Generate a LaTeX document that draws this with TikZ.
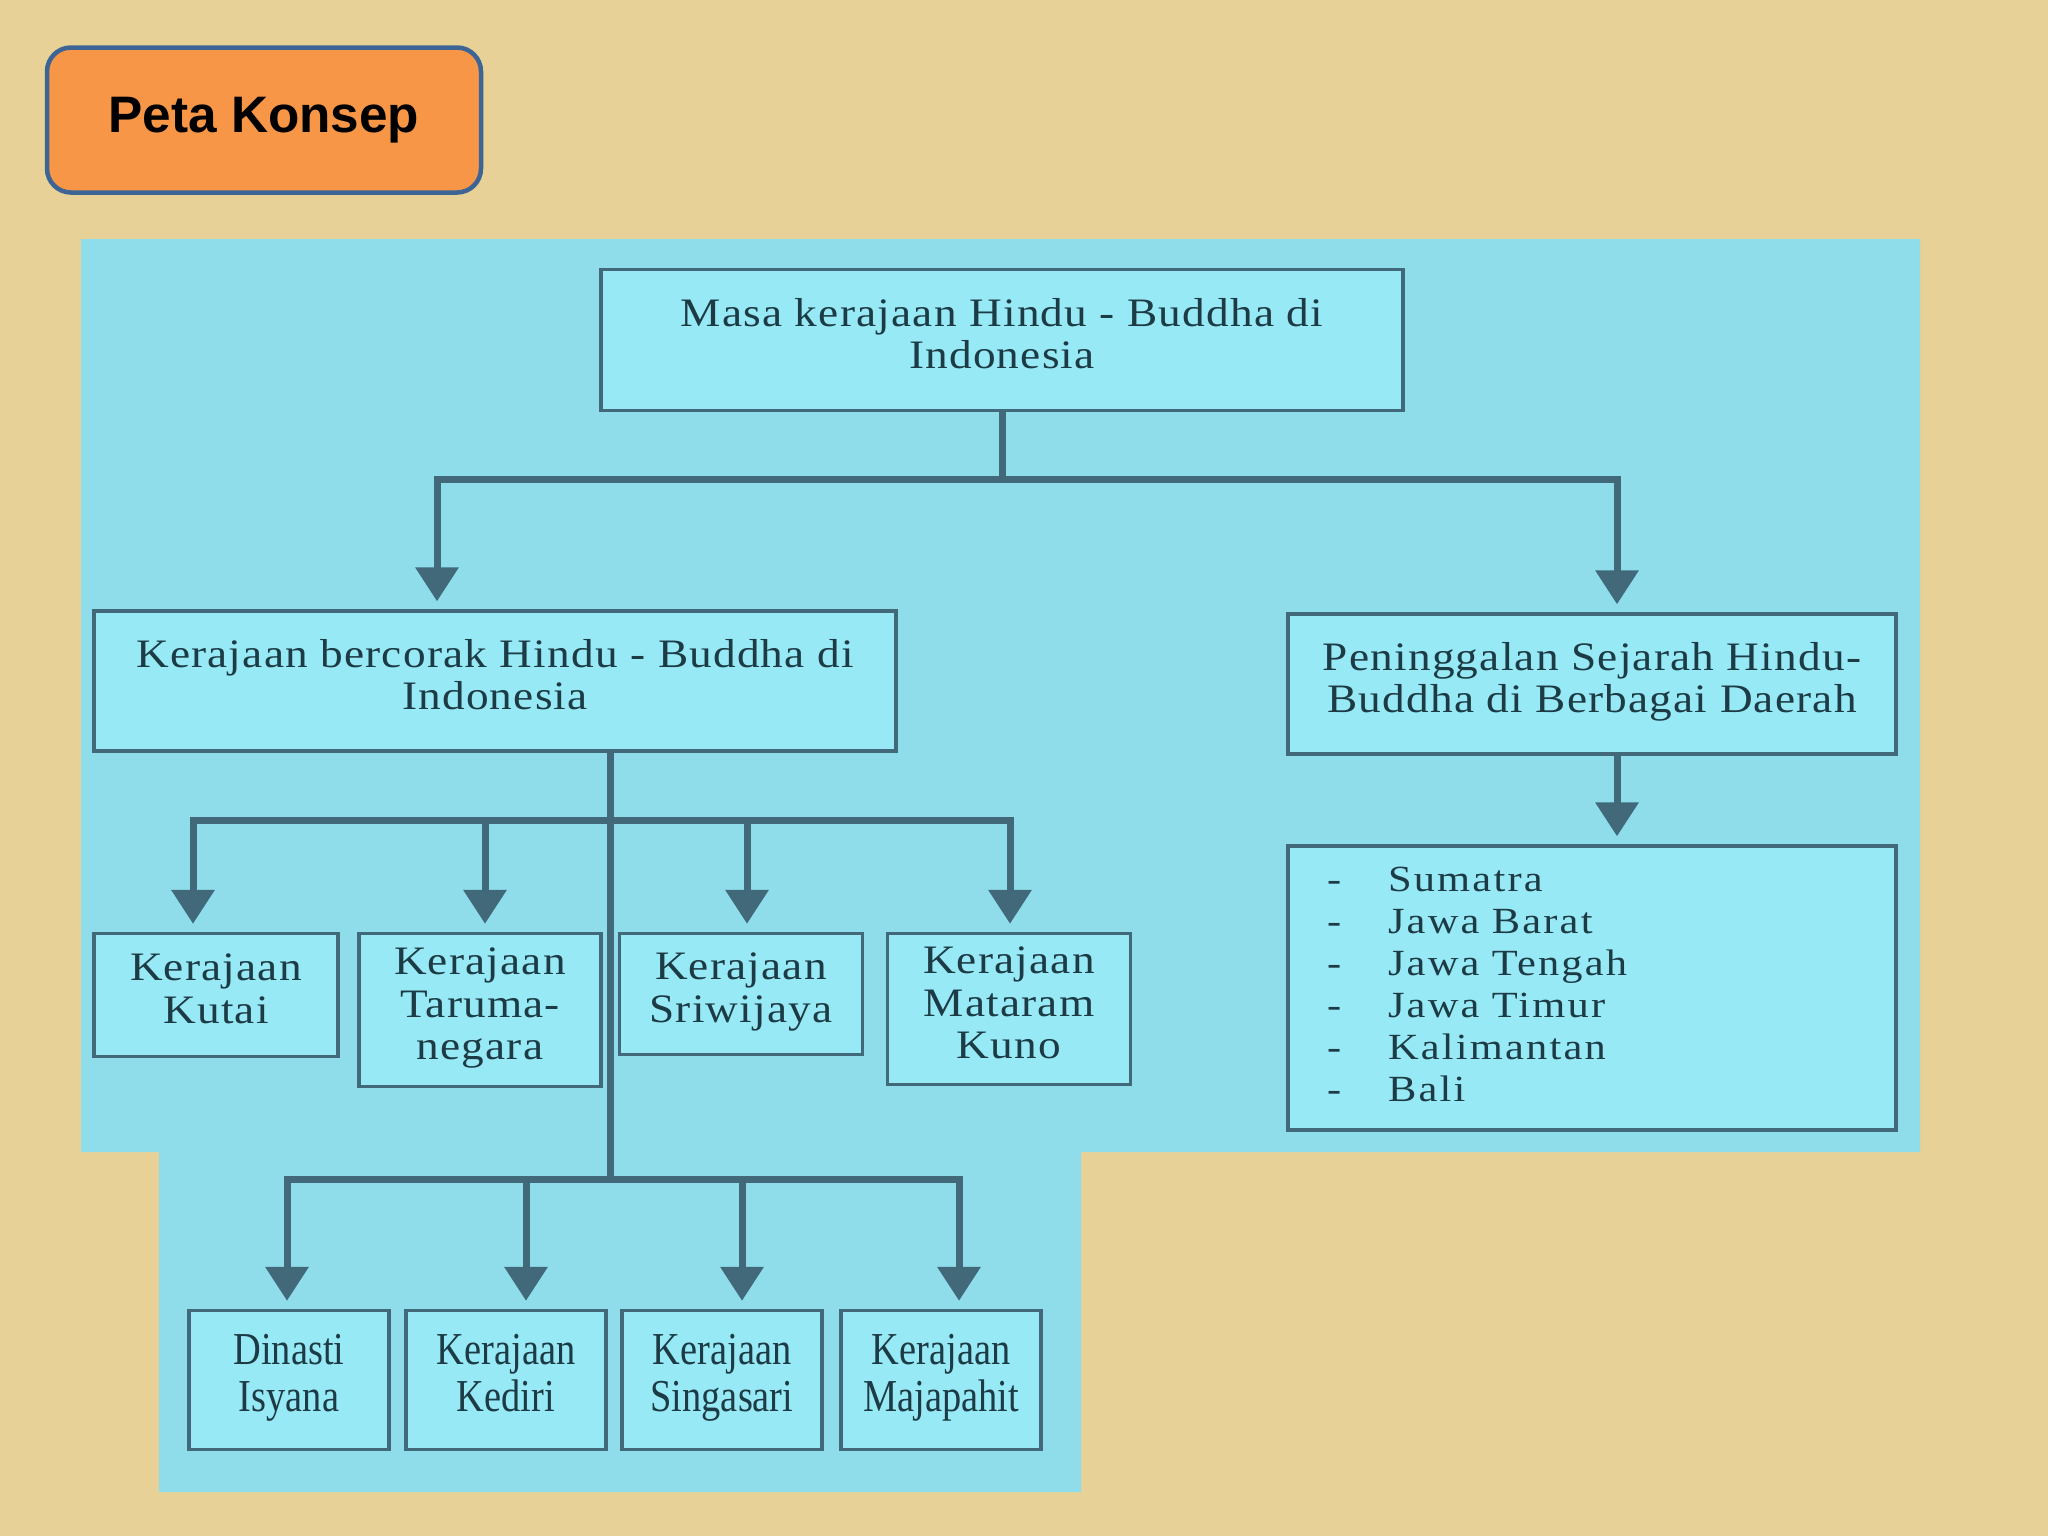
\documentclass[tikz,border=0pt]{standalone}
\usepackage{fontspec}
\usepackage{tikz}
\usetikzlibrary{arrows.meta, calc}
\usepackage{xcolor}

\setmainfont{Liberation Serif}
\newfontfamily\wideserif[FakeStretch=1.12, LetterSpace=3]{Liberation Serif}
\newfontfamily\listserif[FakeStretch=1.15, LetterSpace=6]{Liberation Serif}
\newfontfamily\narrowserif[FakeStretch=0.84]{Liberation Serif}
\newfontfamily\titlesans{Liberation Sans}

\definecolor{paper}{HTML}{E7D197}
\definecolor{panel}{HTML}{8FDDEA}
\definecolor{boxfill}{HTML}{98E9F6}
\definecolor{linec}{HTML}{41697A}
\definecolor{inkc}{HTML}{1C3B44}
\definecolor{titlefill}{HTML}{F79646}
\definecolor{titleline}{HTML}{3C6494}

\begin{document}
\begin{tikzpicture}[
  x=0.1mm, y=-0.1mm,
  title/.style={rectangle, draw=titleline, line width=0.45mm, fill=titlefill, rounded corners=2.4mm, minimum width=43.4mm, minimum height=14.5mm, font=\titlesans\bfseries\fontsize{14.6}{18}\selectfont},
  box/.style={rectangle, draw=linec, line width=0.35mm, fill=boxfill, text=inkc, align=center, inner sep=0pt, font=\wideserif\fontsize{11.5}{12}\selectfont, execute at begin node=\strut, execute at end node=\strut},
  smallbox/.style={box, font=\narrowserif\fontsize{13}{13.5}\selectfont},
  arrow/.style={-{Triangle[width=4.2mm,length=3.4mm]}, draw=linec, line width=0.7mm, shorten >=0.8mm},
  link/.style={draw=linec, line width=0.7mm}
]
\useasboundingbox (0,0) rectangle (2048,1536);
\fill[paper] (0,0) rectangle (2048,1536);

% Title
\node[title] (judul) at (264,120) {Peta Konsep};

% Blue panel
\fill[panel] (81,239) -- (1920,239) -- (1920,1152) -- (1081,1152) -- (1081,1492)
  -- (159,1492) -- (159,1152) -- (81,1152) -- cycle;

% Top level
\node[box, minimum width=80.2mm, minimum height=14.1mm] (masa) at (1002,340) {Masa kerajaan Hindu - Buddha di\\Indonesia};

% Second level
\node[box, minimum width=80.2mm, minimum height=14mm] (kerajaan) at (495,681) {Kerajaan bercorak Hindu - Buddha di\\Indonesia};
\node[box, minimum width=60.8mm, minimum height=14mm] (peninggalan) at (1592,684) {Peninggalan Sejarah Hindu-\\Buddha di Berbagai Daerah};
\node[box, minimum width=60.8mm, minimum height=28.4mm, text width=53mm, align=left, font=\listserif\fontsize{10.5}{12}\selectfont] (daerah) at (1592,988) {%
  \makebox[6.1mm][l]{-}Sumatra\\
  \makebox[6.1mm][l]{-}Jawa Barat\\
  \makebox[6.1mm][l]{-}Jawa Tengah\\
  \makebox[6.1mm][l]{-}Jawa Timur\\
  \makebox[6.1mm][l]{-}Kalimantan\\
  \makebox[6.1mm][l]{-}Bali};

% Early kingdoms
\node[box, minimum width=24.4mm, minimum height=12.3mm] (kutai) at (216,995) {Kerajaan\\Kutai};
\node[box, minimum width=24.2mm, minimum height=15.3mm] (taruma) at (480,1010) {Kerajaan\\Taruma-\\negara};
\node[box, minimum width=24.3mm, minimum height=12.1mm] (sriwijaya) at (741,994) {Kerajaan\\Sriwijaya};
\node[box, minimum width=24.3mm, minimum height=15.1mm] (mataram) at (1009,1009) {Kerajaan\\Mataram\\Kuno};

% Later kingdoms
\node[smallbox, minimum width=20mm, minimum height=13.9mm] (isyana) at (289,1380) {Dinasti\\Isyana};
\node[smallbox, minimum width=20mm, minimum height=13.9mm] (kediri) at (506,1380) {Kerajaan\\Kediri};
\node[smallbox, minimum width=20mm, minimum height=13.9mm] (singasari) at (722,1380) {Kerajaan\\Singasari};
\node[smallbox, minimum width=20mm, minimum height=13.9mm] (majapahit) at (941,1380) {Kerajaan\\Majapahit};

% Connectors
\draw[link] (masa.south) -- (masa.south |- 0,479) coordinate (topjoin);
\draw[arrow] (topjoin) -| (437,0 |- kerajaan.north);
\draw[arrow] (topjoin) -| (1617,0 |- peninggalan.north);
\draw[arrow] (1617,0 |- peninggalan.south) -- (1617,0 |- daerah.north);

\draw[link] (610,0 |- kerajaan.south) -- (610,1179) coordinate (lowjoin);
\coordinate (midjoin) at (610,820);
\draw[arrow] (midjoin) -| (193,0 |- kutai.north);
\draw[arrow] (midjoin) -| (485,0 |- taruma.north);
\draw[arrow] (midjoin) -| (747,0 |- sriwijaya.north);
\draw[arrow] (midjoin) -| (1010,0 |- mataram.north);

\draw[arrow] (lowjoin) -| (287,0 |- isyana.north);
\draw[arrow] (lowjoin) -| (526,0 |- kediri.north);
\draw[arrow] (lowjoin) -| (742,0 |- singasari.north);
\draw[arrow] (lowjoin) -| (959,0 |- majapahit.north);

\end{tikzpicture}
\end{document}
